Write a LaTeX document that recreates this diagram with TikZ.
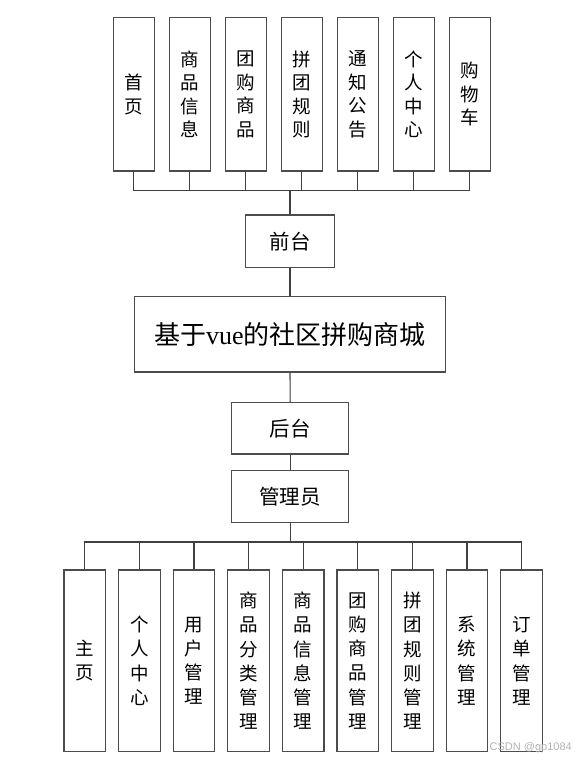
\documentclass[tikz,border=0pt]{standalone}
\usepackage{fontspec}
\setmainfont{Liberation Serif}
\setsansfont{Liberation Sans}
\newfontfamily\cjk{Noto Sans CJK SC}
\begin{document}
\begin{tikzpicture}[x=1pt,y=-1pt,
  box/.style={draw=black!70, line width=1.2pt, fill=white, inner sep=0pt, align=center},
  tbox/.style={box, minimum width=41pt, minimum height=153.3pt, font=\cjk\fontsize{18.5}{23.5}\selectfont},
  bbox/.style={box, minimum width=41.7pt, minimum height=181.7pt, font=\cjk\fontsize{18.5}{24.2}\selectfont},
  mbox/.style={box, minimum width=117pt, minimum height=52pt, font=\cjk\fontsize{20.5}{24}\selectfont},
  link/.style={draw=black!75, line width=1.1pt}]
\useasboundingbox (0,0) rectangle (586,764);

% top row
\node[tbox] (t1) at (133.8,94.3) {首\\页};
\node[tbox] (t2) at (189.8,94.3) {商\\品\\信\\息};
\node[tbox] (t3) at (245.8,94.3) {团\\购\\商\\品};
\node[tbox] (t4) at (301.8,94.3) {拼\\团\\规\\则};
\node[tbox] (t5) at (357.8,94.3) {通\\知\\公\\告};
\node[tbox] (t6) at (413.8,94.3) {个\\人\\中\\心};
\node[tbox] (t7) at (469.8,94.3) {购\\物\\车};

\node[mbox, minimum width=88.6pt, minimum height=52.3pt] (qt) at (290,241.2) {前台};
\node[box, minimum width=311.7pt, minimum height=75.3pt, font=\fontsize{26}{30}\selectfont] (main) at (290,334.3) {{\cjk 基于}vue{\cjk 的社区拼购商城}};
\node[mbox, minimum height=51.7pt] (ht) at (290.2,428.2) {后台};
\node[mbox] (gly) at (290.2,496.3) {管理员};

% bottom row
\node[bbox] (b1) at (84.8,660.8) {主\\页};
\node[bbox] (b2) at (139.4,660.8) {个\\人\\中\\心};
\node[bbox] (b3) at (194.0,660.8) {用\\户\\管\\理};
\node[bbox] (b4) at (248.6,660.8) {商\\品\\分\\类\\管\\理};
\node[bbox] (b5) at (303.2,660.8) {商\\品\\信\\息\\管\\理};
\node[bbox] (b6) at (357.8,660.8) {团\\购\\商\\品\\管\\理};
\node[bbox] (b7) at (412.4,660.8) {拼\\团\\规\\则\\管\\理};
\node[bbox] (b8) at (467.0,660.8) {系\\统\\管\\理};
\node[bbox] (b9) at (521.6,660.8) {订\\单\\管\\理};

% connectors
\coordinate (tb) at (290,190.3);
\coordinate (bb) at (290.2,542);
\foreach \i in {1,...,7} { \draw[link] (t\i.south) |- (tb); }
\draw[link] (tb) -- (qt.north);
\draw[link] (qt.south) -- (main.north);
\draw[link] (main.south) -- (ht.north);
\draw[link] (ht.south) -- (gly.north);
\draw[link] (gly.south) -- (bb);
\foreach \i in {1,...,9} { \draw[link] (b\i.north) |- (bb); }

\node[anchor=east, text=black!30, font=\sffamily\fontsize{11}{13}\selectfont, inner sep=0pt] (wm) at (572,748) {CSDN @gp1084};
\end{tikzpicture}
\end{document}
